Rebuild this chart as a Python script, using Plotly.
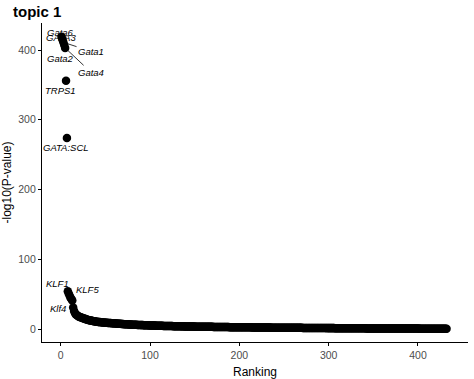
import plotly.graph_objects as go

title = "topic 1"
x_title = "Ranking"
y_title = "-log10(P-value)"

values = [
    419, 415, 411, 407, 403, 356, 274, 54, 51, 48, 45, 43, 41, 31,
    26, 23, 21, 20, 19, 18, 17.5, 17, 16.5, 16, 15.5, 15, 14.6, 14.2, 13.8, 13.4,
    13, 12.7, 12.4, 12.1, 11.8, 11.5, 11.2, 11, 10.8, 10.6,
    10.4, 10.2, 10.1, 9.9, 9.8, 9.6, 9.5, 9.4, 9.2, 9.1,
    9.0, 8.9, 8.8, 8.7, 8.6, 8.5, 8.4, 8.3, 8.2, 8.1,
    8.0, 7.9, 7.8, 7.7, 7.6, 7.5, 7.4, 7.3, 7.2, 7.1,
    7.0, 6.9, 6.9, 6.8, 6.7, 6.6, 6.6, 6.5, 6.4, 6.3,
    6.3, 6.2, 6.1, 6.1, 6.0, 5.9, 5.9, 5.8, 5.8, 5.7,
    5.6, 5.6, 5.5, 5.5, 5.4, 5.4, 5.3, 5.3, 5.2, 5.2,
    5.1, 5.1, 5.0, 5.0, 4.9, 4.9, 4.8, 4.8, 4.8, 4.7,
    4.7, 4.6, 4.6, 4.6, 4.5, 4.5, 4.4, 4.4, 4.4, 4.3,
    4.3, 4.3, 4.2, 4.2, 4.2, 4.1, 4.1, 4.1, 4.0, 4.0,
    4.0, 3.9, 3.9, 3.9, 3.9, 3.8, 3.8, 3.8, 3.7, 3.7,
    3.7, 3.7, 3.6, 3.6, 3.6, 3.6, 3.5, 3.5, 3.5, 3.5,
    3.4, 3.4, 3.4, 3.4, 3.4, 3.3, 3.3, 3.3, 3.3, 3.3,
    3.2, 3.2, 3.2, 3.2, 3.2, 3.1, 3.1, 3.1, 3.1, 3.1,
    3.0, 3.0, 3.0, 3.0, 3.0, 3.0, 2.9, 2.9, 2.9, 2.9,
    2.9, 2.9, 2.8, 2.8, 2.8, 2.8, 2.8, 2.8, 2.7, 2.7,
    2.7, 2.7, 2.7, 2.7, 2.6, 2.6, 2.6, 2.6, 2.6, 2.6,
    2.5, 2.5, 2.5, 2.5, 2.5, 2.5, 2.4, 2.4, 2.4, 2.4,
    2.4, 2.4, 2.4, 2.3, 2.3, 2.3, 2.3, 2.3, 2.3, 2.3,
    2.2, 2.2, 2.2, 2.2, 2.2, 2.2, 2.2, 2.1, 2.1, 2.1,
    2.1, 2.1, 2.1, 2.1, 2.1, 2.0, 2.0, 2.0, 2.0, 2.0,
    2.0, 2.0, 2.0, 1.9, 1.9, 1.9, 1.9, 1.9, 1.9, 1.9,
    1.9, 1.9, 1.8, 1.8, 1.8, 1.8, 1.8, 1.8, 1.8, 1.8,
    1.8, 1.7, 1.7, 1.7, 1.7, 1.7, 1.7, 1.7, 1.7, 1.7,
    1.6, 1.6, 1.6, 1.6, 1.6, 1.6, 1.6, 1.6, 1.6, 1.5,
    1.5, 1.5, 1.5, 1.5, 1.5, 1.5, 1.5, 1.5, 1.4, 1.4,
    1.4, 1.4, 1.4, 1.4, 1.4, 1.4, 1.4, 1.3, 1.3, 1.3,
    1.3, 1.3, 1.3, 1.3, 1.3, 1.3, 1.2, 1.2, 1.2, 1.2,
    1.2, 1.2, 1.2, 1.2, 1.2, 1.2, 1.2, 1.1, 1.1, 1.1,
    1.1, 1.1, 1.1, 1.1, 1.1, 1.1, 1.1, 1.1, 1.1, 1.0,
    1.0, 1.0, 1.0, 1.0, 1.0, 1.0, 1.0, 1.0, 1.0, 1.0,
    1.0, 0.9, 0.9, 0.9, 0.9, 0.9, 0.9, 0.9, 0.9, 0.9,
    0.9, 0.9, 0.9, 0.9, 0.9, 0.8, 0.8, 0.8, 0.8, 0.8,
    0.8, 0.8, 0.8, 0.8, 0.8, 0.8, 0.8, 0.8, 0.8, 0.7,
    0.7, 0.7, 0.7, 0.7, 0.7, 0.7, 0.7, 0.7, 0.7, 0.7,
    0.7, 0.7, 0.7, 0.7, 0.7, 0.6, 0.6, 0.6, 0.6, 0.6,
    0.6, 0.6, 0.6, 0.6, 0.6, 0.6, 0.6, 0.6, 0.6, 0.6,
    0.6, 0.5, 0.5, 0.5, 0.5, 0.5, 0.5, 0.5, 0.5, 0.5,
    0.5, 0.5, 0.5, 0.5, 0.5, 0.4, 0.4, 0.4, 0.4, 0.4,
    0.4, 0.4, 0.4, 0.4, 0.4, 0.4, 0.3, 0.3, 0.3, 0.3,
    0.3, 0.3,
]
ranks = list(range(1, len(values) + 1))

# labelled motifs: name, rank, label x, label y, leader line
label_names = ["Gata6", "GATA3", "Gata1", "Gata2", "Gata4", "TRPS1", "GATA:SCL", "KLF1", "KLF5", "Klf4"]
label_ranks = [1, 2, 3, 4, 5, 6, 7, 8, 11, 14]
label_x = [0, 0, 34, 0, 34, 0, 6, -3, 30, -3]
label_y = [425, 418, 398, 388, 368, 342, 260, 65, 56, 30]
label_line = [False, False, True, False, True, False, False, False, False, False]

fig = go.Figure()
fig.add_trace(go.Scatter(
    x=ranks, y=values, mode="markers",
    marker=dict(color="black", size=8.5, line=dict(width=0)),
    showlegend=False, hoverinfo="x+y",
))

lab_font = dict(family="Liberation Sans, Arial, sans-serif", size=9.5, color="black")
for name, r, lx, ly, ln in zip(label_names, label_ranks, label_x, label_y, label_line):
    if ln:
        fig.add_annotation(
            x=r, y=values[r - 1], ax=lx, ay=ly, axref="x", ayref="y",
            text=f"<i>{name}</i>", showarrow=True, arrowhead=0, arrowwidth=0.8,
            arrowcolor="black", standoff=3, font=lab_font,
        )
    else:
        fig.add_annotation(x=lx, y=ly, text=f"<i>{name}</i>", showarrow=False, font=lab_font)

axis_common = dict(
    showgrid=False, zeroline=False, showline=True, linecolor="black", linewidth=1.2,
    ticks="outside", ticklen=3, tickcolor="black", tickwidth=1,
    tickfont=dict(size=10.5, color="#4d4d4d"), automargin=False,
    tickvals=[0, 100, 200, 300, 400],
)

fig.update_layout(
    width=474, height=379,
    paper_bgcolor="white", plot_bgcolor="white",
    margin=dict(l=42, r=6, t=23, b=37, autoexpand=False),
    font=dict(family="Liberation Sans, Arial, sans-serif", color="black"),
    title=dict(text=f"<b>{title}</b>", x=13 / 474, xanchor="left", y=1 - 12 / 379, yanchor="middle",
               font=dict(size=15, color="black")),
    xaxis=dict(title=dict(text=x_title, font=dict(size=12, color="black")),
               range=[-20.9, 456], **axis_common),
    yaxis=dict(title=dict(text=y_title, font=dict(size=12, color="black")),
               range=[-18.6, 438.7], **axis_common),
)

fig.write_html(
    "out.html",
    config={"displayModeBar": False},
    post_script="document.body.style.margin='0';document.body.style.overflow='hidden';",
)
